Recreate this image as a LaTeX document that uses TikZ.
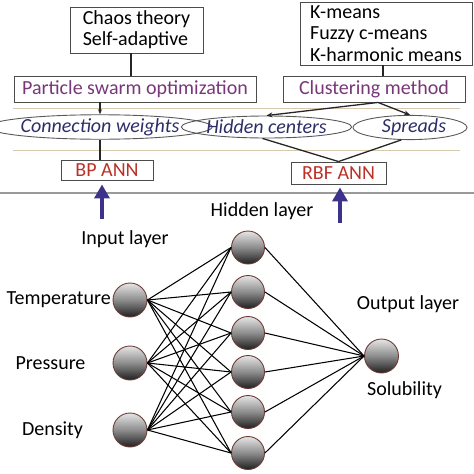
\documentclass[tikz,border=0pt]{standalone}
\usepackage{fontspec}
\setmainfont{Carlito}
\usetikzlibrary{shapes.geometric,arrows.meta}
\definecolor{psopurple}{RGB}{120,55,120}
\definecolor{ellnavy}{RGB}{45,45,105}
\definecolor{annred}{RGB}{185,50,40}
\definecolor{arrblue}{RGB}{60,50,140}
\definecolor{tanline}{RGB}{215,200,175}
\definecolor{sphedge}{RGB}{110,60,55}
\tikzset{
  box/.style={draw=black!70, line width=0.9pt, rectangle, inner sep=0pt, font=\fontsize{20}{21}\selectfont},
  methbox/.style={box, text=psopurple},
  annbox/.style={box, text=annred},
  ell/.style={draw=black!65, line width=0.9pt, ellipse, inner sep=0pt, text=ellnavy, font=\fontsize{20}{21}\selectfont\itshape},
  conn/.style={line width=1.3pt, black!85},
  bigarrow/.style={line width=4pt, arrblue, -{Triangle[width=15pt,length=14pt]}},
  lbl/.style={font=\fontsize{20}{21}\selectfont, text=black, inner sep=0pt},
  neuron/.style={circle, draw=sphedge, line width=0.9pt, top color=black!10, bottom color=black!88, middle color=black!45, inner sep=0pt},
  inneuron/.style={neuron, minimum size=34pt},
  hidneuron/.style={neuron, minimum size=33pt},
  wire/.style={line width=1.05pt, black},
}
\begin{document}
\begin{tikzpicture}[x=1pt,y=-1pt]
\useasboundingbox (0,0) rectangle (474,474);
% top boxes
\node[box, minimum width=133pt, minimum height=46pt, align=left] (chaos) at (136.5,30) {Chaos theory\\Self-adaptive};
\node[box, minimum width=172pt, minimum height=63pt, align=left, font=\fontsize{20}{21.5}\selectfont] (kmeans) at (386,33.5) {K-means\\Fuzzy c-means\\K-harmonic means};
\node[methbox, minimum width=242pt, minimum height=26pt] (pso) at (135,89) {Particle swarm optimization};
\node[methbox, minimum width=182pt, minimum height=26pt] (clust) at (374,89) {Clustering method};
% separator lines
\draw[tanline, line width=1pt] (13,108) -- (460,108);
\draw[tanline, line width=1pt] (13,150) -- (460,150);
% ellipses
\node[ell, minimum width=180pt, minimum height=22pt] (cw) at (100,127) {Connection weights};
\node[ell, minimum width=147pt, minimum height=22pt] (hc) at (266.5,127) {Hidden centers};
\node[ell, minimum width=114pt, minimum height=24pt] (sp) at (410,127.5) {\hspace{8pt}Spreads};
% ANN boxes
\node[annbox, minimum width=92pt, minimum height=20pt] (bp) at (107,170) {BP ANN};
\node[annbox, minimum width=95pt, minimum height=22pt] (rbf) at (338.5,173) {RBF ANN};
% connectors top
\draw[conn] ([xshift=-5.5pt]chaos.south) -- ([xshift=-5.5pt]chaos.south |- pso.north);
\draw[conn] ([xshift=-3pt]kmeans.south) -- ([xshift=-3pt]kmeans.south |- clust.north);
\draw[conn, -{Stealth[length=5pt,width=4pt]}] (pso.south -| cw.north) -- (cw.north);
\draw[conn] (cw.south) -- (cw.south |- bp.north);
\draw[conn, -{Stealth[length=6pt,width=5pt]}] ([xshift=4pt]clust.south) -- (hc.north);
\draw[conn, -{Stealth[length=6pt,width=5pt]}] ([xshift=4pt]clust.south) -- (sp.north);
\draw[conn] ([xshift=-4pt]hc.south) -- (rbf.north);
\draw[conn] (sp.235) -- (rbf.north);
% gray divider
\draw[black!40, line width=1.2pt] (0,193) -- (474,193);
% big arrows
\coordinate (bpa) at (102,219);
\coordinate (rbfa) at (340,223);
\draw[bigarrow, shorten >=4pt] (bpa) -- (bpa |- bp.south);
\draw[bigarrow, shorten >=3pt] (rbfa) -- (rbfa |- rbf.south);
% network
\node[inneuron] (i1) at (130,300) {};
\node[inneuron] (i2) at (130,363) {};
\node[inneuron] (i3) at (130,430) {};
\node[hidneuron] (h1) at (248,247.5) {};
\node[hidneuron] (h2) at (248,292) {};
\node[hidneuron] (h3) at (248,333) {};
\node[hidneuron] (h4) at (248,372) {};
\node[hidneuron] (h5) at (248,412) {};
\node[hidneuron] (h6) at (248,453) {};
\node[inneuron] (o) at (381.5,356) {};
\foreach \i in {1,2,3}{
  \foreach \h in {1,...,6}{
    \draw[wire] (i\i.east) -- (h\h.west);
  }
}
\foreach \h in {1,...,6}{
  \draw[wire] (h\h.east) -- (o.west);
}
% labels
\node[lbl] (linput) at (125,239) {Input layer};
\node[lbl] (lhidden) at (262,211) {Hidden layer};
\node[lbl, anchor=east] (ltemp) at (111,300) {Temperature};
\node[lbl] (lpress) at (50.5,363) {Pressure};
\node[lbl] (ldens) at (52.5,430) {Density};
\node[lbl] (lout) at (408,304) {Output layer};
\node[lbl] (lsol) at (404.5,390) {Solubility};
\end{tikzpicture}
\end{document}
